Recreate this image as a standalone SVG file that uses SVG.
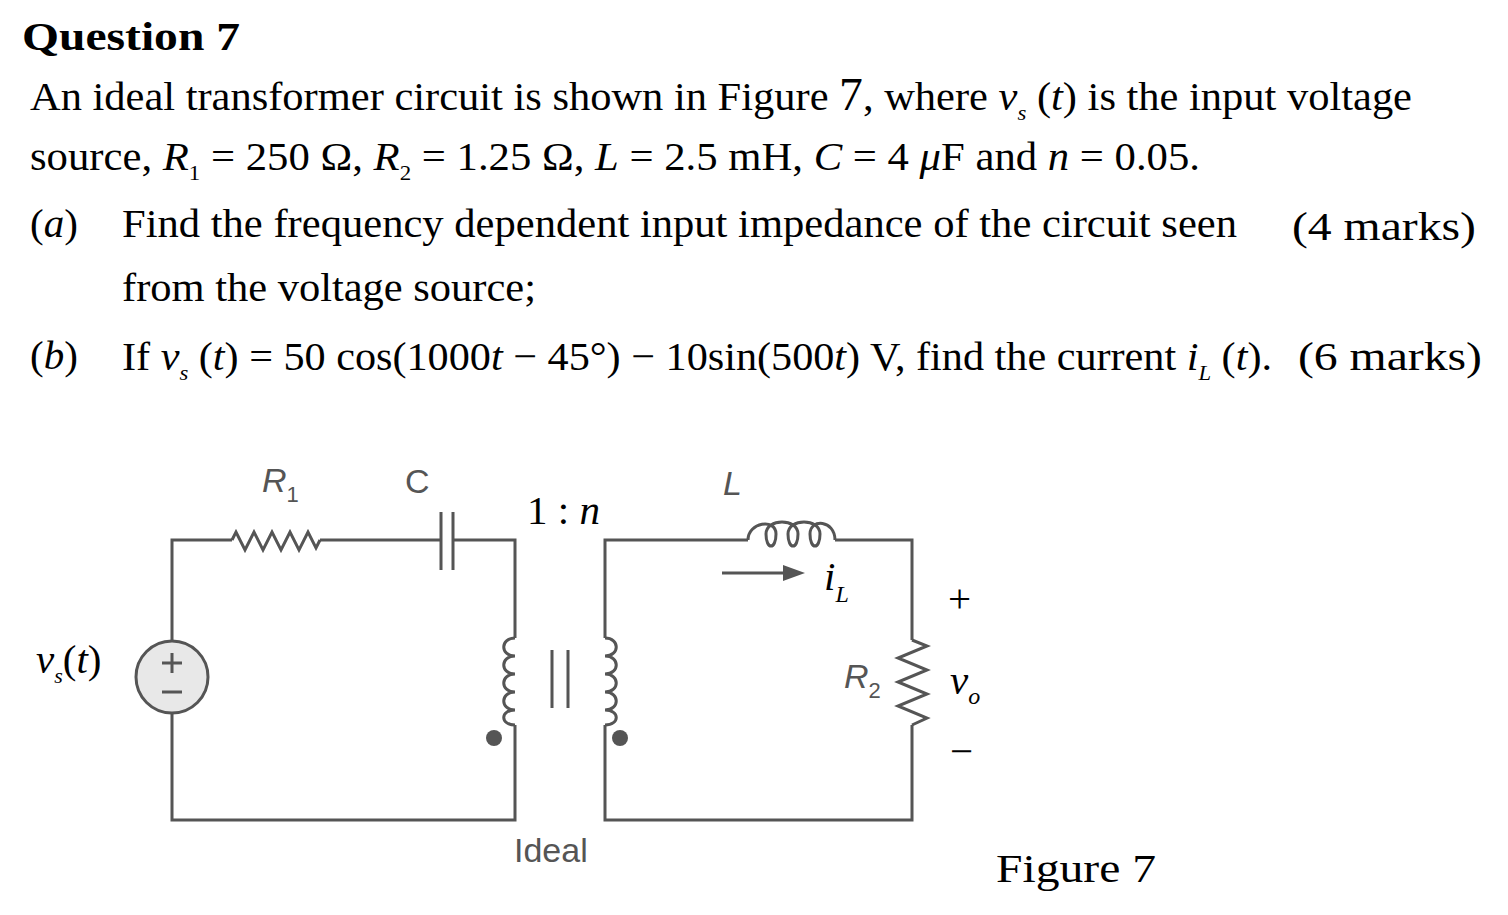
<svg xmlns="http://www.w3.org/2000/svg" width="1508" height="915" viewBox="0 0 1508 915">
<style>
.t{font-family:"Liberation Serif",serif;font-size:41px;fill:#000}
.s{font-family:"Liberation Sans",Arial,sans-serif;font-size:34px;fill:#555}
.w{fill:none;stroke:#555;stroke-width:3}
</style>
<rect width="1508" height="915" fill="#fff"/>
<g id="text">
<text x="22" y="50" class="t" font-weight="bold" font-size="44" textLength="218" lengthAdjust="spacingAndGlyphs">Question 7</text>
<text x="30" y="110" class="t" textLength="1382" lengthAdjust="spacingAndGlyphs">An ideal transformer circuit is shown in Figure <tspan font-size="46">7</tspan>, where <tspan font-style="italic">v</tspan><tspan font-size="22" dy="10" font-style="italic">s</tspan><tspan dy="-10"> (</tspan><tspan font-style="italic">t</tspan>) is the input voltage</text>
<text x="30" y="170" class="t" textLength="1170" lengthAdjust="spacingAndGlyphs">source, <tspan font-style="italic">R</tspan><tspan font-size="22" dy="10">1</tspan><tspan dy="-10"> = 250 Ω, </tspan><tspan font-style="italic">R</tspan><tspan font-size="22" dy="10">2</tspan><tspan dy="-10"> = 1.25 Ω, </tspan><tspan font-style="italic">L</tspan> = 2.5 mH, <tspan font-style="italic">C</tspan> = 4 <tspan font-style="italic">μ</tspan>F and <tspan font-style="italic">n</tspan> = 0.05.</text>
<text x="30" y="237" class="t">(<tspan font-style="italic">a</tspan>)</text>
<text x="122" y="237" class="t" textLength="1115" lengthAdjust="spacingAndGlyphs">Find the frequency dependent input impedance of the circuit seen</text>
<text x="1292" y="240" class="t" font-size="44" textLength="184" lengthAdjust="spacingAndGlyphs">(4 marks)</text>
<text x="122" y="301" class="t" textLength="414" lengthAdjust="spacingAndGlyphs">from the voltage source;</text>
<text x="30" y="369" class="t">(<tspan font-style="italic">b</tspan>)</text>
<text x="122" y="370" class="t" textLength="1150" lengthAdjust="spacingAndGlyphs">If <tspan font-style="italic">v</tspan><tspan font-size="22" dy="10" font-style="italic">s</tspan><tspan dy="-10"> (</tspan><tspan font-style="italic">t</tspan>) = 50 cos(1000<tspan font-style="italic">t</tspan> − 45°) − 10sin(500<tspan font-style="italic">t</tspan>) V,  find the current <tspan font-style="italic">i</tspan><tspan font-size="22" dy="10" font-style="italic">L</tspan><tspan dy="-10"> (</tspan><tspan font-style="italic">t</tspan>).</text>
<text x="1298" y="370" class="t" font-size="44" textLength="184" lengthAdjust="spacingAndGlyphs">(6 marks)</text>
<text x="996" y="882" class="t" font-size="46" textLength="160" lengthAdjust="spacingAndGlyphs">Figure 7</text>
</g>
<g id="connectors">
<path class="w" d="M172,641 V540 H232 M320,540 H441 M453,540 H515 V638 M515,725 V820 H172 V713"/>
<path class="w" d="M605,638 V540 H748 M835,540 H912 V640 M912,725 V820 H605 V725"/>
</g>
<g id="source"><circle cx="172" cy="677" r="36" fill="#e8e8e8" stroke="#555" stroke-width="3"/>
<path class="w" d="M162,663 H182 M172,653 V673 M162,692 H182"/>
<text x="36" y="673" class="t" font-size="42"><tspan font-style="italic">v</tspan><tspan font-size="22" dy="10" font-style="italic">s</tspan><tspan dy="-10">(</tspan><tspan font-style="italic">t</tspan>)</text></g>
<g id="R1"><path class="w" d="M232,540 L236,532 L245,550 L254,532 L263,550 L272,532 L281,550 L290,532 L299,550 L308,532 L316,548 L320,540"/>
<text x="262" y="492" class="s" font-style="italic">R<tspan font-size="22" dy="10" font-style="normal">1</tspan></text></g>
<g id="C"><path class="w" d="M441,512 V570 M453,512 V570"/>
<text x="405" y="493" class="s">C</text></g>
<g id="transformer">
<path class="w" d="M515,638 C500,638 500,656 515,656 C500,656 500,674 515,674 C500,674 500,692 515,692 C500,692 500,710 515,710 C500,710 500,725 515,725"/>
<path class="w" d="M605,638 C620,638 620,656 605,656 C620,656 620,674 605,674 C620,674 620,692 605,692 C620,692 620,710 605,710 C620,710 620,725 605,725"/>
<path class="w" d="M552,650 V708 M568,650 V708"/>
<circle cx="494" cy="738" r="8" fill="#555"/><circle cx="620" cy="738" r="8" fill="#555"/>
<text x="527" y="524" class="t">1 : <tspan font-style="italic">n</tspan></text>
<text x="514" y="862" class="s">Ideal</text></g>
<g id="L"><path class="w" d="M748,540 C748,522 776,518 776,534 C776,550 766,550 766,534 C766,518 798,518 798,534 C798,550 788,550 788,534 C788,518 820,518 820,534 C820,550 810,550 810,534 C810,518 835,520 835,540"/>
<text x="723" y="495" class="s" font-style="italic">L</text></g>
<g id="iL"><path d="M722,573 H785" stroke="#555" stroke-width="3"/><path d="M783,565 L805,573 L783,581 Z" fill="#555"/>
<text x="824" y="590" class="t" font-style="italic">i<tspan font-size="24" dy="12">L</tspan></text></g>
<g id="R2"><path class="w" d="M912,640 L927,646 L898,658 L927,670 L898,682 L927,694 L898,706 L927,718 L912,725"/>
<text x="844" y="688" class="s" font-style="italic">R<tspan font-size="22" dy="10" font-style="normal">2</tspan></text>
<text x="948" y="612" class="t">+</text><text x="950" y="694" class="t" font-style="italic">v<tspan font-size="24" dy="10">o</tspan></text><text x="950" y="765" class="t">−</text></g>
</svg>
